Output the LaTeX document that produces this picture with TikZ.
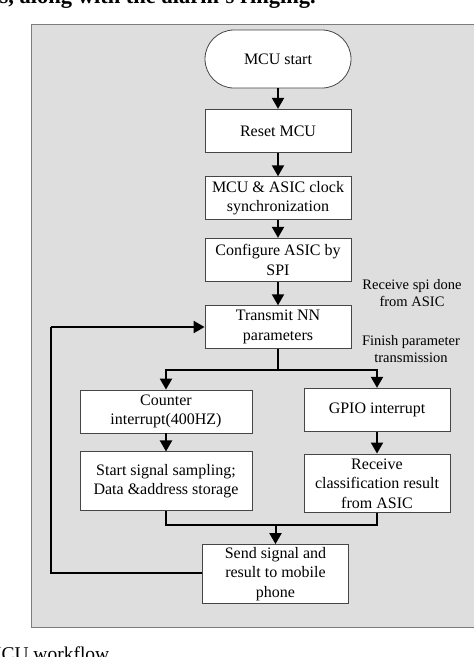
\documentclass[tikz,border=0pt]{standalone}
\usepackage{fontspec}
\setmainfont{Liberation Serif}
\usetikzlibrary{arrows.meta}
\definecolor{panelfill}{RGB}{222,222,222}
\definecolor{panelline}{RGB}{125,125,125}
\definecolor{boxline}{RGB}{70,70,70}
\begin{document}
\begin{tikzpicture}[x=1pt,y=-1pt,
  box/.style={draw=boxline,line width=0.8pt,fill=white,inner sep=0pt,align=center,
    font=\fontsize{16}{19.5}\selectfont},
  term/.style={box,rounded corners=29pt},
  flow/.style={line width=2pt,-{Triangle[length=11pt,width=12pt]}},
  line/.style={line width=2pt},
  note/.style={align=center,font=\fontsize{14.5}{16.7}\selectfont,inner sep=0pt}]
\useasboundingbox (0,0) rectangle (474,657);
% captions (cut by the page edge)
\node[anchor=base west,inner sep=0pt,font=\fontsize{22.5}{26}\selectfont\bfseries] (captop) at (-0.5,3.5) {s, along with the alarm's ringing.};
\node[anchor=base west,inner sep=0pt,font=\fontsize{19.5}{22}\selectfont] (capbot) at (-16,660) {MCU workflow};
% panel
\draw[draw=panelline,fill=panelfill,line width=0.8pt] (31,24) rectangle (480,627);
% nodes
\node[term,minimum width=146pt,minimum height=58pt] (start) at (278,59) {MCU start};
\node[box,minimum width=146pt,minimum height=43.5pt] (reset) at (278,131) {Reset MCU};
\node[box,minimum width=146pt,minimum height=42.6pt] (sync) at (278,198) {MCU \& ASIC clock\\synchronization};
\node[box,minimum width=146pt,minimum height=43.5pt] (config) at (278,260) {Configure ASIC by\\SPI};
\node[box,minimum width=146pt,minimum height=42.6pt] (trans) at (278,327) {Transmit NN\\parameters};
\node[box,minimum width=172pt,minimum height=43pt] (counter) at (166,411.5) {Counter\\interrupt(400HZ)};
\node[box,minimum width=146pt,minimum height=43.5pt] (gpio) at (377,410) {GPIO interrupt};
\node[box,minimum width=172pt,minimum height=58.3pt] (sample) at (166,481) {Start signal sampling;\\Data \&address storage};
\node[box,minimum width=146pt,minimum height=58.7pt] (recv) at (377,483.3) {Receive\\classification result\\from ASIC};
\node[box,minimum width=145.6pt,minimum height=59pt] (send) at (275.5,574) {Send signal and\\result to mobile\\phone};
\node[note] (spidone) at (412,293) {Receive spi done\\from ASIC};
\node[note] (finish) at (411,349) {Finish parameter\\transmission};
% helper coordinates
\coordinate (split) at (278,370);
\coordinate (splitL) at (166,370);
\coordinate (splitR) at (377,370);
\coordinate (mergeL) at (166,525);
\coordinate (mergeR) at (377,525);
\coordinate (mergeC) at (275.5,525);
\coordinate (loopB) at (51,573);
\coordinate (loopT) at (51,327);
% connectors
\draw[flow] (start) -- (reset);
\draw[flow] (reset) -- (sync);
\draw[flow] (sync) -- (config);
\draw[flow] (config) -- (trans);
\draw[line] (trans.south) -- (split);
\draw[flow] (splitR) -| (counter.north);
\draw[flow] (splitL) -| (gpio.north);
\draw[flow] (counter) -- (sample);
\draw[flow] (gpio) -- (recv);
\draw[line] (sample.south) |- (mergeR) -- (recv.south);
\draw[flow] (mergeC) -- (send.north);
\draw[line] (send.west |- loopB) -- (loopB) -- (loopT);
\draw[flow] (loopT) -- (trans.west);
\end{tikzpicture}
\end{document}
